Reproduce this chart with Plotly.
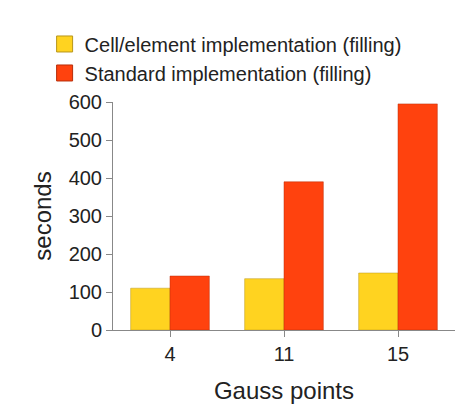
import plotly.graph_objects as go

gauss_points = ["4", "11", "15"]
cell_element = [110, 135, 150]
standard = [142, 390, 595]

fig = go.Figure()
fig.add_trace(go.Bar(x=gauss_points, y=cell_element, showlegend=False,
                     marker=dict(color="#FFD320", line=dict(color="#B8961A", width=0.5))))
fig.add_trace(go.Bar(x=gauss_points, y=standard, showlegend=False,
                     marker=dict(color="#FF420E", line=dict(color="#B82E0A", width=0.5))))
# legend entries with larger square swatches
fig.add_trace(go.Scatter(x=[None], y=[None], mode="markers", name="Cell/element implementation (filling)",
                         marker=dict(symbol="square", size=22, color="#FFD320", line=dict(color="#B8961A", width=1))))
fig.add_trace(go.Scatter(x=[None], y=[None], mode="markers", name="Standard implementation (filling)",
                         marker=dict(symbol="square", size=22, color="#FF420E", line=dict(color="#B82E0A", width=1))))

fig.update_layout(
    width=474, height=420,
    barmode="group", bargap=0.31, bargroupgap=0,
    plot_bgcolor="white", paper_bgcolor="white",
    font=dict(family="Liberation Sans", size=20, color="#222"),
    margin=dict(l=105, r=27, t=94, b=98),
    legend=dict(x=-0.2, y=1.34, xanchor="left", yanchor="top", tracegroupgap=0,
                font=dict(size=20), itemwidth=30),
    xaxis=dict(title=dict(text="Gauss points", standoff=18), showline=True, linecolor="#888",
               ticks="outside", ticklen=6, tickcolor="#888"),
    yaxis=dict(title=dict(text="seconds", standoff=10), range=[0, 600], dtick=100,
               showline=True, linecolor="#888", ticks="outside", ticklen=6, tickcolor="#888",
               showgrid=False, zeroline=False),
)
fig.write_html("out.html")
